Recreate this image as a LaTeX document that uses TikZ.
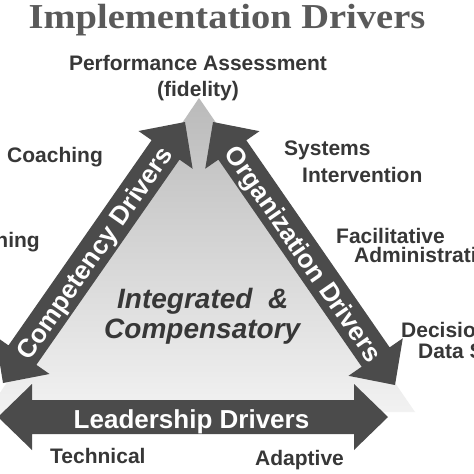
\documentclass[tikz,border=0pt]{standalone}
\usepackage{fontspec}
\setmainfont{Liberation Sans}
\newfontfamily\titlefont{Liberation Serif}
\usetikzlibrary{calc}
\definecolor{arrowfill}{RGB}{75,75,75}
\definecolor{labelgray}{RGB}{55,55,55}
\definecolor{titlegray}{RGB}{90,90,90}
\newcommand{\dblarrow}[2]{%
  \coordinate (#1-h) at ($(#1)!34pt!(#2)$);
  \coordinate (#2-h) at ($(#2)!34pt!(#1)$);
  \fill[arrowfill] (#1)
    -- ($(#1-h)!33pt!90:(#2)$)
    -- ($(#1-h)!17pt!90:(#2)$)
    -- ($(#2-h)!17pt!-90:(#1)$)
    -- ($(#2-h)!33pt!-90:(#1)$)
    -- (#2)
    -- ($(#2-h)!33pt!90:(#1)$)
    -- ($(#2-h)!17pt!90:(#1)$)
    -- ($(#1-h)!17pt!-90:(#2)$)
    -- ($(#1-h)!33pt!-90:(#2)$)
    -- cycle;}
\tikzset{
  lbl/.style={inner sep=0pt, text=labelgray, font=\bfseries\fontsize{21}{24}\selectfont},
  drv/.style={inner sep=0pt, text=white, font=\bfseries\fontsize{26}{30}\selectfont,
    text height=18.6pt, text depth=0pt, anchor=center},
  mid/.style={inner sep=0pt, text=labelgray, font=\bfseries\itshape\fontsize{28}{32}\selectfont}
}
\begin{document}
\begin{tikzpicture}[x=1pt,y=-1pt]
\fill[white] (0,0) rectangle (474,474);
\useasboundingbox (0,0) rectangle (474,474);
% background triangle
\coordinate (apex) at (199,98);
\coordinate (bl) at (-15,415);
\coordinate (br) at (415,412);
\shade[top color=black!27, bottom color=black!5] (apex) -- (bl) -- (br) -- cycle;
% arrow tips
\coordinate (cl) at (3,383);
\coordinate (ct) at (185,122);
\coordinate (ot) at (213,122);
\coordinate (ob) at (395,385);
\coordinate (ll) at (-2,417);
\coordinate (lr) at (388,417);
\dblarrow{cl}{ct}
\dblarrow{ot}{ob}
\dblarrow{ll}{lr}
% arrow texts
\node[drv, rotate=55.1] (comp) at ($(cl)!0.5!(ct)$) {Competency Drivers};
\node[drv, rotate=-55.3] (org) at ($(ot)!0.5!(ob)$) {Organization Drivers};
\node[drv] (lead) at (191.5,419) {Leadership Drivers};
% title
\node[anchor=base, inner sep=0pt, text=titlegray] (title) at (227,28)
  {\titlefont\bfseries\fontsize{35}{40}\selectfont\scalebox{1.1}[1]{Implementation Drivers}};
% labels
\node[lbl, anchor=base] (perf) at (198,70) {Performance Assessment};
\node[lbl, anchor=base] (fid) at (198,96) {(fidelity)};
\node[lbl, anchor=base west] (coach) at (7,162) {Coaching};
\node[lbl, anchor=base east] (train) at (40,247) {Training};
\node[lbl, anchor=base west] (sys) at (284,155) {Systems};
\node[lbl, anchor=base west] (interv) at (302,182) {Intervention};
\node[lbl, anchor=base west] (facil) at (336,243) {Facilitative};
\node[lbl, anchor=base west] (admin) at (354,262) {Administration};
\node[lbl, anchor=base west] (dec) at (401,337) {Decision Support};
\node[lbl, anchor=base west] (data) at (418,358) {Data Systems};
\node[lbl, anchor=base west] (tech) at (50,463) {Technical};
\node[lbl, anchor=base west] (adapt) at (255,465) {Adaptive};
\node[mid, anchor=base west] (integ) at (117,308) {Integrated \ \&};
\node[mid, anchor=base west] (compens) at (104,338) {Compensatory};
\end{tikzpicture}
\end{document}
